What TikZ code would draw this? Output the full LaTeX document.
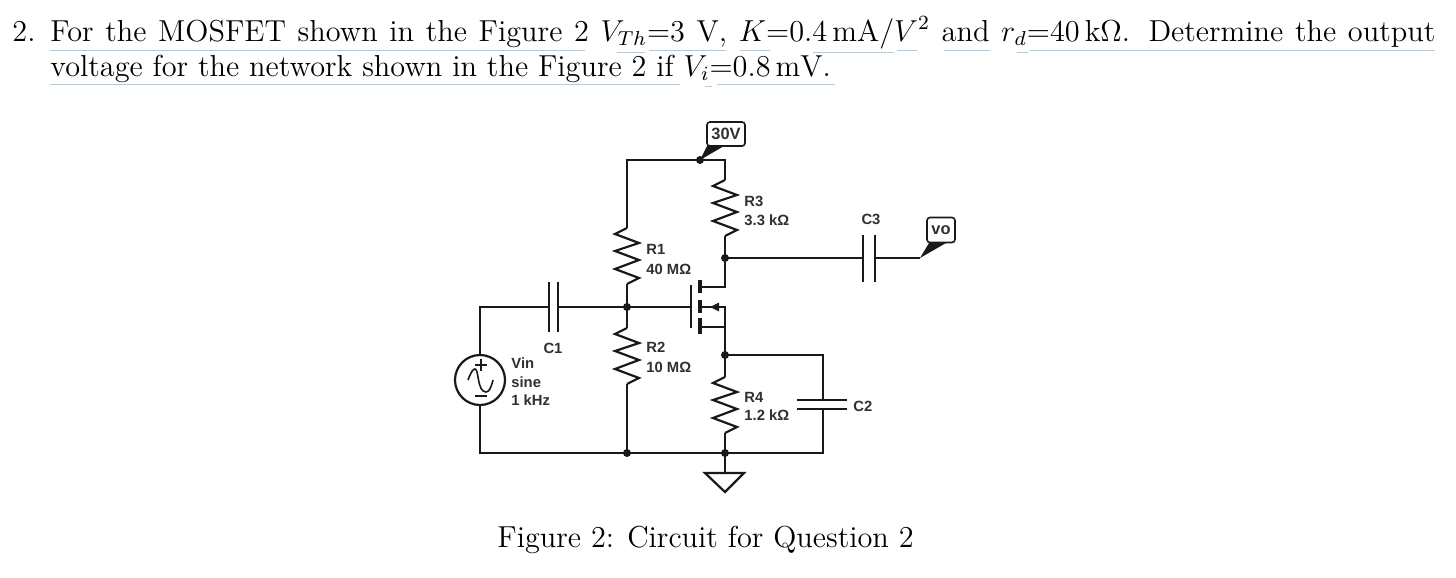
\documentclass[tikz,border=0pt]{standalone}
\usepackage{fontspec}
\newfontfamily\schfont{Liberation Sans}
\definecolor{wavy}{RGB}{170,205,228}
\definecolor{ink}{RGB}{25,25,25}
\newcommand{\paratext}[1]{\scalebox{1.2637}{\fontsize{12}{14}\selectfont #1}}
\tikzset{
  wire/.style={line width=1.1pt,color=ink,line join=miter},
  plate/.style={line width=1.1pt,color=ink},
  thick plate/.style={line width=2.2pt,color=ink},
  dot/.style={circle,fill=ink,inner sep=0pt,minimum size=4pt},
  lbl/.style={font=\schfont\bfseries\fontsize{7.4}{8}\selectfont,text=ink!90,inner sep=0pt},
  tag/.style={font=\schfont\bfseries\fontsize{8.2}{9}\selectfont,text=ink!90,draw=ink,line width=.8pt,rounded corners=1.5pt,inner sep=0pt},
  para/.style={anchor=base west,inner sep=0pt,text=black},
  check/.style={line width=.45pt,color=wavy},
  res/.pic={
    \draw[wire] (0,0) -- (-12,6) -- (12,15) -- (-12,23) -- (12,32) -- (-12,41) -- (12,50) -- (0,56);
    \coordinate (-a) at (0,0);
    \coordinate (-b) at (0,56);
  }
}
\begin{document}
\begin{tikzpicture}[x=.5pt,y=-.5pt]
  \useasboundingbox (0,0) rectangle (1456,578);

  % question text
  \node[para] (num) at (12,41) {\paratext{2.}};
  \node[para] (l1) at (50,41) {\paratext{\hbox to 548pt{For the MOSFET shown in the Figure 2 $V_{Th}{=}3$ V, $K{=}0.4\,\mathrm{mA}/V^{2}$ and $r_{d}{=}40\,\mathrm{k}\Omega$. Determine the output}}};
  \node[para] (l2) at (50,76) {\paratext{voltage for the network shown in the Figure 2 if $V_{i}{=}0.8\,\mathrm{mV}$.}};
  \node[para] (cap) at (497,547) {\paratext{Figure 2: Circuit for Question 2}};

  % spell check underlines
  \draw[check] (50,50) -- (585,50) (617,52) -- (645,52) (649,50) -- (726,50);
  \draw[check] (740,50) -- (770,50) (813,52) -- (894,52) (897,50) -- (917,50);
  \draw[check] (944,50) -- (990,50) (1017,52) -- (1028,52) (1030,50) -- (1435,50);
  \draw[check] (50,84) -- (680,84) (705,86) -- (712,86) (717,84) -- (835,84);

  % junctions
  \node[dot] (jtop) at (700,160) {};
  \node[dot] (jd) at (725,258) {};
  \node[dot] (jg) at (627,307) {};
  \node[dot] (js) at (725,355) {};
  \node[dot] (jb) at (627,453) {};
  \node[dot] (jgnd) at (725,453) {};

  % resistors
  \pic (r1) at (627,228) {res};
  \pic (r2) at (627,328) {res};
  \pic (r3) at (725,180) {res};
  \pic (r4) at (725,377) {res};

  % source
  \node[circle,draw=ink,line width=1.1pt,minimum size=25pt,inner sep=0pt] (vin) at (480,380) {};
  \draw[line width=.8pt,color=ink] (468,380) .. controls (471,372) and (473,369) .. (475,369)
    .. controls (479,369) and (477,392) .. (486,392)
    .. controls (489,392) and (491,388) .. (493,380);
  \draw[line width=.6pt,color=ink] (475,365) -- (487,365) (481,359) -- (481,371) (475,396) -- (487,396);

  % capacitors
  \coordinate (c1a) at (549,307); \coordinate (c1b) at (558,307);
  \draw[plate] (549,282) -- (549,332) (558,282) -- (558,332);
  \coordinate (c3a) at (863,258); \coordinate (c3b) at (875,258);
  \draw[plate] (863,235) -- (863,282) (875,235) -- (875,282);
  \coordinate (c2a) at (823,400); \coordinate (c2b) at (823,409);
  \draw[plate] (797,400) -- (847,400) (797,409) -- (847,409);

  % mosfet
  \coordinate (gate) at (691,307);
  \coordinate (md) at (700,287); \coordinate (ms) at (700,307); \coordinate (mb) at (700,327);
  \draw[plate] (691,285) -- (691,328);
  \draw[thick plate] (700,280) -- (700,293) (700,300) -- (700,313) (700,318) -- (700,334);
  \fill[ink] (710,307) -- (719,302.5) -- (719,311.5) -- cycle;

  % tags and other free ends
  \node[tag,minimum width=19pt,minimum height=12pt] (vcc) at (726,134) {30V};
  \node[tag,minimum width=14pt,minimum height=12.5pt] (vo) at (941,230) {vo};
  \coordinate (vout) at (920,258);
  \coordinate (gtop) at (725,473);
  \draw[wire] (705,473) -- (744,473) -- (725,492) -- cycle;
  \fill[ink] (jtop.center) -- (707,146) -- (724,146) -- cycle;
  \fill[ink] (vout) -- (929,243) -- (946,243) -- cycle;

  % wires
  \draw[wire] (r1-a) |- (jtop.center) -| (r3-a);
  \draw[wire] (r3-b) -- (jd.center) |- (md);
  \draw[wire] (jd.center) -- (c3a);
  \draw[wire] (c3b) -- (vout);
  \draw[wire] (r1-b) -- (jg.center) -- (r2-a);
  \draw[wire] (r2-b) -- (jb.center);
  \draw[wire] (vin.north) |- (c1a);
  \draw[wire] (c1b) -- (jg.center) -- (gate);
  \draw[wire] (ms) -- (725,307) -- (js.center) -- (r4-a);
  \draw[wire] (mb) -- (725,327);
  \draw[wire] (js.center) -| (c2a);
  \draw[wire] (c2b) |- (jgnd.center);
  \draw[wire] (r4-b) -- (jgnd.center) -- (gtop);
  \draw[wire] (vin.south) |- (jb.center) -- (jgnd.center);

  % labels
  \node[lbl,anchor=center] (lc1) at (553,348) {C1};
  \node[lbl,anchor=west] (lv1) at (511,363) {Vin};
  \node[lbl,anchor=west] (lv2) at (511,382) {sine};
  \node[lbl,anchor=west] (lv3) at (511,400) {1 kHz};
  \node[lbl,anchor=west] (lr1) at (646,249) {R1};
  \node[lbl,anchor=west] (vr1) at (646,269) {40 MΩ};
  \node[lbl,anchor=west] (lr2) at (646,347) {R2};
  \node[lbl,anchor=west] (vr2) at (646,367) {10 MΩ};
  \node[lbl,anchor=west] (lr3) at (744,201) {R3};
  \node[lbl,anchor=west] (vr3) at (744,220) {3.3 kΩ};
  \node[lbl,anchor=west] (lr4) at (744,397) {R4};
  \node[lbl,anchor=west] (vr4) at (744,415) {1.2 kΩ};
  \node[lbl,anchor=center] (lc3) at (871,219) {C3};
  \node[lbl,anchor=west] (lc2) at (853,406) {C2};
\end{tikzpicture}
\end{document}
